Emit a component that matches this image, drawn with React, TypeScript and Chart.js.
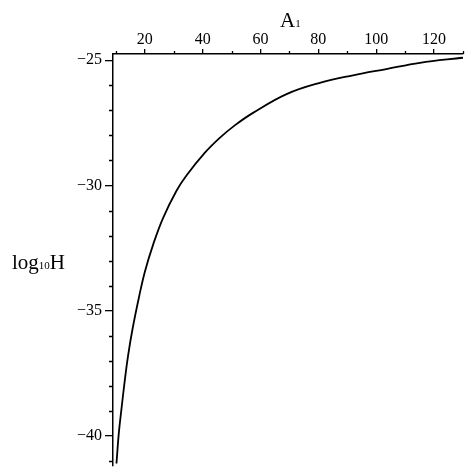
import React, { useEffect, useRef } from "react";
import { Chart, registerables } from "chart.js";

Chart.register(...registerables);

const aValues = [10.2, 11.0, 12.0, 12.9, 14.2, 15.8, 18.0, 20.0, 22.9, 26.3, 31.0, 34.4, 40.7, 45.9, 51.1, 57.4, 69.0, 80.5, 92.0, 103.5, 115.1, 130];
const logHValues = [-41.1, -39.9, -38.85, -37.95, -36.8, -35.7, -34.45, -33.45, -32.35, -31.3, -30.2, -29.6, -28.7, -28.1, -27.6, -27.1, -26.35, -25.9, -25.6, -25.35, -25.1, -24.9];
const xMajorTicks = [20, 40, 60, 80, 100, 120];
const xMinorTicks = [10, 30, 50, 70, 90, 110, 130];
const yMajorTicks = [-40, -35, -30, -25];
const yMinorTicks = [-41, -39, -38, -37, -36, -34, -33, -32, -31, -29, -28, -27, -26];

const SERIF = "'Liberation Serif', 'Times New Roman', serif";

export default function App() {
  const ref = useRef<HTMLCanvasElement | null>(null);

  useEffect(() => {
    if (!ref.current) return;
    const points = aValues.map((a, i) => ({ x: a, y: logHValues[i] }));

    const decor = {
      id: "decor",
      afterDraw(chart: any) {
        const ctx = chart.ctx;
        const xs = chart.scales.x;
        const ys = chart.scales.y;
        const area = chart.chartArea;
        ctx.save();
        ctx.strokeStyle = "#000";
        ctx.lineWidth = 1.3;
        ctx.beginPath();
        for (const v of xMinorTicks) {
          const px = Math.round(xs.getPixelForValue(v)) + 0.5;
          ctx.moveTo(px, area.top);
          ctx.lineTo(px, area.top - 3);
        }
        for (const v of yMinorTicks) {
          const py = Math.round(ys.getPixelForValue(v)) + 0.5;
          ctx.moveTo(area.left, py);
          ctx.lineTo(area.left - 4, py);
        }
        ctx.stroke();

        ctx.fillStyle = "#000";
        ctx.textBaseline = "alphabetic";
        ctx.textAlign = "left";
        // top axis title A1
        ctx.font = `21px ${SERIF}`;
        const ax = 280;
        const ay = 27;
        ctx.fillText("A", ax, ay);
        const aw = ctx.measureText("A").width;
        ctx.font = `11px ${SERIF}`;
        ctx.fillText("1", ax + aw, ay);
        // left axis title log10H
        const lx = 12;
        const ly = 269;
        ctx.font = `21px ${SERIF}`;
        ctx.fillText("log", lx, ly);
        let w = ctx.measureText("log").width;
        ctx.font = `11px ${SERIF}`;
        ctx.fillText("10", lx + w, ly);
        w += ctx.measureText("10").width;
        ctx.font = `21px ${SERIF}`;
        ctx.fillText("H", lx + w, ly);
        ctx.restore();
      },
    };

    const chart = new Chart(ref.current, {
      type: "line",
      data: {
        datasets: [
          {
            data: points,
            borderColor: "#000",
            borderWidth: 1.8,
            pointRadius: 0,
            fill: false,
            tension: 0.4,
          },
        ],
      },
      options: {
        animation: false,
        responsive: false,
        maintainAspectRatio: false,
        layout: { padding: { left: 0, top: 0, right: 11, bottom: 8 } },
        plugins: { legend: { display: false }, tooltip: { enabled: false } },
        scales: {
          x: {
            type: "linear",
            position: "top",
            min: 9,
            max: 130,
            afterBuildTicks: (s: any) => {
              s.ticks = xMajorTicks.map((v) => ({ value: v }));
            },
            afterFit: (s: any) => {
              s.height = 54;
              s.paddingLeft = 0;
              s.paddingRight = 0;
            },
            grid: { drawOnChartArea: false, drawTicks: true, tickLength: 5, color: "#000", lineWidth: 1.3 },
            border: { display: true, color: "#000", width: 1.5 },
            ticks: {
              color: "#000",
              font: { family: SERIF, size: 16 },
              padding: 0,
              maxRotation: 0,
              autoSkip: false,
              callback: (v: any) => String(v),
            },
          },
          y: {
            type: "linear",
            position: "left",
            min: -41.2,
            max: -24.75,
            afterBuildTicks: (s: any) => {
              s.ticks = yMajorTicks.map((v) => ({ value: v }));
            },
            afterFit: (s: any) => {
              s.width = 113;
              s.paddingTop = 0;
              s.paddingBottom = 0;
            },
            grid: { drawOnChartArea: false, drawTicks: true, tickLength: 8, color: "#000", lineWidth: 1.3 },
            border: { display: true, color: "#000", width: 1.5 },
            ticks: {
              color: "#000",
              font: { family: SERIF, size: 16 },
              padding: 3,
              autoSkip: false,
              callback: (v: any) => "\u2212" + Math.abs(Number(v)),
            },
          },
        },
      },
      plugins: [decor],
    } as any);
    return () => chart.destroy();
  }, []);

  return (
    <div style={{ position: "fixed", left: 0, top: 0, width: 474, height: 474, background: "#fff" }}>
      <canvas ref={ref} width={474} height={474} style={{ width: 474, height: 474 }} />
    </div>
  );
}
